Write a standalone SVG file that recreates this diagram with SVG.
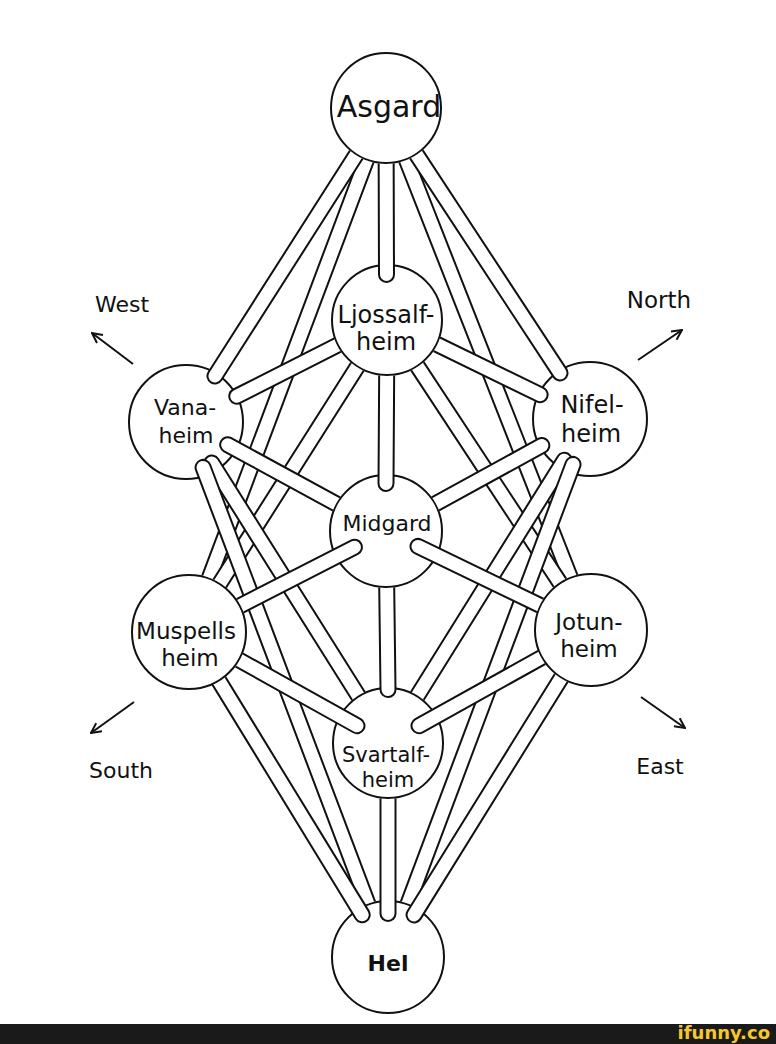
<svg xmlns="http://www.w3.org/2000/svg" width="776" height="1044" viewBox="0 0 776 1044">
<style>
.nd{fill:#fff;stroke:#111;stroke-width:2}
.t{font-family:"DejaVu Sans",sans-serif;fill:#111;text-anchor:middle}
.o{stroke:#111;stroke-width:17;stroke-linecap:round;fill:none}
.i{stroke:#fff;stroke-width:13;stroke-linecap:round;fill:none}
.ar{stroke:#111;stroke-width:2;fill:none}
</style>
<defs>
<clipPath id="xA"><path clip-rule="evenodd" d="M0 0H776V1044H0Z M330 108a56 56 0 1 0 112 0a56 56 0 1 0 -112 0Z"/></clipPath>
<clipPath id="xL"><path clip-rule="evenodd" d="M0 0H776V1044H0Z M331 320a56 56 0 1 0 112 0a56 56 0 1 0 -112 0Z"/></clipPath>
<clipPath id="xV"><path clip-rule="evenodd" d="M0 0H776V1044H0Z M128 422a58 58 0 1 0 116 0a58 58 0 1 0 -116 0Z"/></clipPath>
<clipPath id="xN"><path clip-rule="evenodd" d="M0 0H776V1044H0Z M532 419a58 58 0 1 0 116 0a58 58 0 1 0 -116 0Z"/></clipPath>
<clipPath id="xMi"><path clip-rule="evenodd" d="M0 0H776V1044H0Z M329 531a57 57 0 1 0 114 0a57 57 0 1 0 -114 0Z"/></clipPath>
<clipPath id="xMu"><path clip-rule="evenodd" d="M0 0H776V1044H0Z M131 632a58 58 0 1 0 116 0a58 58 0 1 0 -116 0Z"/></clipPath>
<clipPath id="xJ"><path clip-rule="evenodd" d="M0 0H776V1044H0Z M534 630a57 57 0 1 0 114 0a57 57 0 1 0 -114 0Z"/></clipPath>
<clipPath id="xS"><path clip-rule="evenodd" d="M0 0H776V1044H0Z M332 743a56 56 0 1 0 112 0a56 56 0 1 0 -112 0Z"/></clipPath>
<clipPath id="xH"><path clip-rule="evenodd" d="M0 0H776V1044H0Z M331 957a57 57 0 1 0 114 0a57 57 0 1 0 -114 0Z"/></clipPath>
<marker id="ah" viewBox="0 0 12 12" refX="11" refY="6" markerWidth="12" markerHeight="12" markerUnits="userSpaceOnUse" orient="auto">
<path d="M1 1L11 6L1 11" fill="none" stroke="#111" stroke-width="2"/>
</marker>
</defs>
<rect width="776" height="1044" fill="#fff"/>

<g id="asgard"><circle class="nd" cx="386" cy="108" r="55"/><text class="t" x="389" y="117" font-size="30">Asgard</text></g>
<g id="ljossalfheim"><circle class="nd" cx="387" cy="320" r="55"/><text class="t" x="386" y="323" font-size="24">Ljossalf-</text><text class="t" x="386" y="350" font-size="24">heim</text></g>
<g id="vanaheim"><circle class="nd" cx="186" cy="422" r="57"/><text class="t" x="185" y="415" font-size="22">Vana-</text><text class="t" x="186" y="443" font-size="22">heim</text></g>
<g id="nifelheim"><circle class="nd" cx="590" cy="419" r="57"/><text class="t" x="592" y="413" font-size="24">Nifel-</text><text class="t" x="591" y="442" font-size="24">heim</text></g>
<g id="midgard"><circle class="nd" cx="386" cy="531" r="56"/><text class="t" x="387" y="531" font-size="22">Midgard</text></g>
<g id="muspellsheim"><circle class="nd" cx="189" cy="632" r="57"/><text class="t" x="186" y="639" font-size="23">Muspells</text><text class="t" x="190" y="666" font-size="23">heim</text></g>
<g id="jotunheim"><circle class="nd" cx="591" cy="630" r="56"/><text class="t" x="589" y="630" font-size="23">Jotun-</text><text class="t" x="589" y="657" font-size="23">heim</text></g>
<g id="svartalfheim"><circle class="nd" cx="388" cy="743" r="55"/><text class="t" x="386" y="762" font-size="21">Svartalf-</text><text class="t" x="388" y="787" font-size="21">heim</text></g>
<g id="hel"><circle class="nd" cx="388" cy="957" r="56"/><text class="t" x="388" y="971" font-size="22" font-weight="bold">Hel</text></g>

<g id="connectors">
<g clip-path="url(#xA)"><g clip-path="url(#xMu)"><line class="o" x1="386" y1="108" x2="189" y2="632"/><line class="i" x1="386" y1="108" x2="189" y2="632"/></g></g>
<g clip-path="url(#xA)"><g clip-path="url(#xJ)"><line class="o" x1="386" y1="108" x2="591" y2="630"/><line class="i" x1="386" y1="108" x2="591" y2="630"/></g></g>
<g clip-path="url(#xL)"><g clip-path="url(#xMu)"><line class="o" x1="387" y1="320" x2="189" y2="632"/><line class="i" x1="387" y1="320" x2="189" y2="632"/></g></g>
<g clip-path="url(#xL)"><g clip-path="url(#xJ)"><line class="o" x1="387" y1="320" x2="591" y2="630"/><line class="i" x1="387" y1="320" x2="591" y2="630"/></g></g>
<g clip-path="url(#xS)"><line class="o" x1="388" y1="743" x2="211.8" y2="463"/><line class="i" x1="388" y1="743" x2="211.8" y2="463"/></g>
<g clip-path="url(#xH)"><line class="o" x1="388" y1="957" x2="203.1" y2="467.4"/><line class="i" x1="388" y1="957" x2="203.1" y2="467.4"/></g>
<g clip-path="url(#xS)"><line class="o" x1="388" y1="743" x2="564.3" y2="460.2"/><line class="i" x1="388" y1="743" x2="564.3" y2="460.2"/></g>
<g clip-path="url(#xH)"><line class="o" x1="388" y1="957" x2="573" y2="464.4"/><line class="i" x1="388" y1="957" x2="573" y2="464.4"/></g>
<g clip-path="url(#xA)"><line class="o" x1="386" y1="108" x2="215" y2="376"/><line class="i" x1="386" y1="108" x2="215" y2="376"/></g>
<g clip-path="url(#xA)"><line class="o" x1="386" y1="108" x2="560" y2="373"/><line class="i" x1="386" y1="108" x2="560" y2="373"/></g>
<g clip-path="url(#xL)"><line class="o" x1="387" y1="320" x2="236.8" y2="396.2"/><line class="i" x1="387" y1="320" x2="236.8" y2="396.2"/></g>
<g clip-path="url(#xL)"><line class="o" x1="387" y1="320" x2="540.1" y2="394.7"/><line class="i" x1="387" y1="320" x2="540.1" y2="394.7"/></g>
<g clip-path="url(#xMi)"><line class="o" x1="386" y1="531" x2="227.7" y2="444.7"/><line class="i" x1="386" y1="531" x2="227.7" y2="444.7"/></g>
<g clip-path="url(#xMi)"><line class="o" x1="386" y1="531" x2="541.8" y2="445.5"/><line class="i" x1="386" y1="531" x2="541.8" y2="445.5"/></g>
<g clip-path="url(#xMu)"><line class="o" x1="189" y1="632" x2="354.4" y2="547.2"/><line class="i" x1="189" y1="632" x2="354.4" y2="547.2"/></g>
<g clip-path="url(#xJ)"><line class="o" x1="591" y1="630" x2="418" y2="546.4"/><line class="i" x1="591" y1="630" x2="418" y2="546.4"/></g>
<g clip-path="url(#xMu)"><line class="o" x1="189" y1="632" x2="357" y2="725.7"/><line class="i" x1="189" y1="632" x2="357" y2="725.7"/></g>
<g clip-path="url(#xJ)"><line class="o" x1="591" y1="630" x2="419" y2="725.7"/><line class="i" x1="591" y1="630" x2="419" y2="725.7"/></g>
<g clip-path="url(#xMu)"><line class="o" x1="189" y1="632" x2="362.2" y2="914.8"/><line class="i" x1="189" y1="632" x2="362.2" y2="914.8"/></g>
<g clip-path="url(#xJ)"><line class="o" x1="591" y1="630" x2="414.1" y2="914.9"/><line class="i" x1="591" y1="630" x2="414.1" y2="914.9"/></g>
<g clip-path="url(#xA)"><line class="o" x1="386" y1="108" x2="386.5" y2="274.5"/><line class="i" x1="386" y1="108" x2="386.5" y2="274.5"/></g>
<g clip-path="url(#xL)"><line class="o" x1="387" y1="320" x2="386" y2="483.5"/><line class="i" x1="387" y1="320" x2="386" y2="483.5"/></g>
<g clip-path="url(#xMi)"><line class="o" x1="386" y1="531" x2="388" y2="689.5"/><line class="i" x1="386" y1="531" x2="388" y2="689.5"/></g>
<g clip-path="url(#xS)"><line class="o" x1="388" y1="743" x2="388" y2="913.5"/><line class="i" x1="388" y1="743" x2="388" y2="913.5"/></g>
</g>

<g id="directions">
<text class="t" x="122" y="312" font-size="22">West</text>
<line class="ar" x1="133" y1="364" x2="92" y2="333" marker-end="url(#ah)"/>
<text class="t" x="659" y="308" font-size="23">North</text>
<line class="ar" x1="638" y1="360" x2="682" y2="330" marker-end="url(#ah)"/>
<text class="t" x="121" y="778" font-size="22">South</text>
<line class="ar" x1="134" y1="702" x2="91" y2="733" marker-end="url(#ah)"/>
<text class="t" x="660" y="774" font-size="22">East</text>
<line class="ar" x1="641" y1="697" x2="685" y2="728" marker-end="url(#ah)"/>
</g>

<g id="watermark">
<rect x="0" y="1024" width="776" height="20" fill="#1a1a1a"/>
<text x="770" y="1039" font-family="'DejaVu Sans',sans-serif" font-weight="bold" font-size="18" fill="#f5c82a" text-anchor="end">ifunny.co</text>
</g>
</svg>
